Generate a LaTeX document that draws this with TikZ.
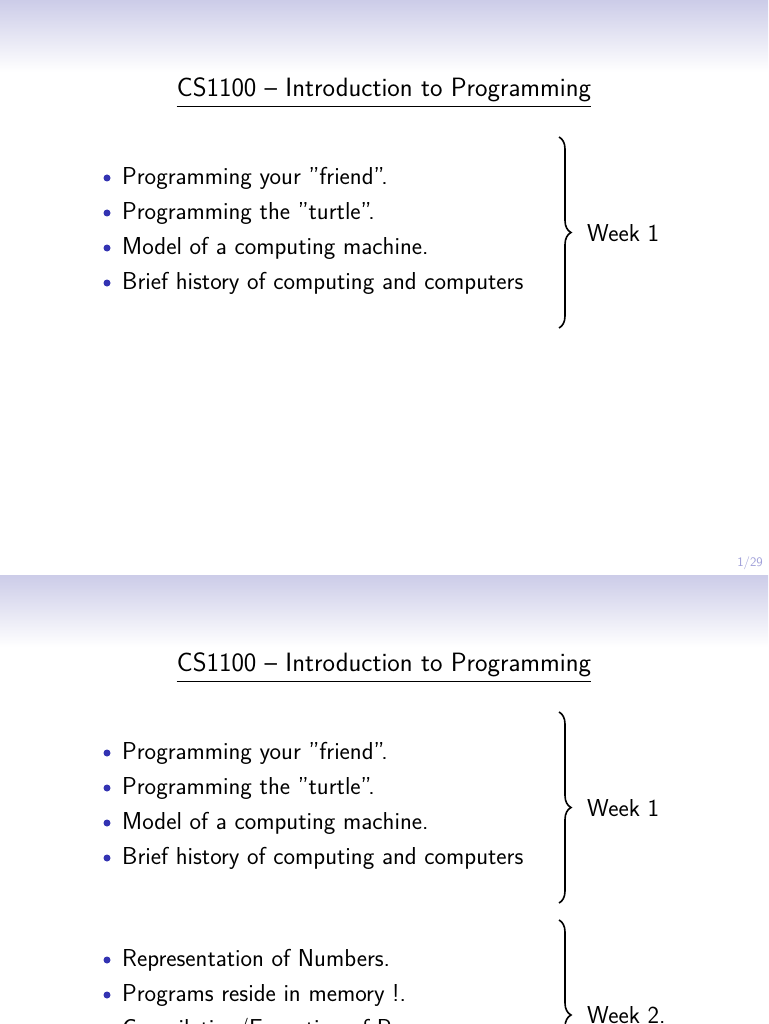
\documentclass[tikz,border=0pt]{standalone}
\usetikzlibrary{decorations.pathreplacing}
\definecolor{hdr}{RGB}{204,204,232}
\definecolor{bul}{RGB}{51,51,178}
\tikzset{
 item/.style={anchor=west,font=\fontsize{24.5}{28}\selectfont\sffamily,inner sep=0pt},
 ttl/.style={font=\fontsize{26.5}{30}\selectfont\sffamily,inner sep=0pt},
 bulletdot/.style={circle,fill=bul,inner sep=0pt,minimum size=7pt},
 brc/.style={decorate,decoration={brace,amplitude=12pt},line width=1.6pt},
 week/.style={anchor=west,font=\fontsize{24.5}{28}\selectfont\sffamily,inner sep=0pt},
}
\begin{document}
\begin{tikzpicture}[x=1pt,y=-1pt]
\useasboundingbox (0,0) rectangle (768,1024);
\clip (0,0) rectangle (768,1024);
\fill[white] (0,0) rectangle (768,1024);
\shade[top color=hdr,bottom color=white] (0,0) rectangle (768,72);
\shade[top color=hdr,bottom color=white] (0,575) rectangle (768,647);
\node[anchor=east,font=\fontsize{13}{15}\selectfont\sffamily,text=hdr!70!bul,inner sep=0pt] (pg) at (763,563) {1/29};
\foreach \o/\s in {0/a,575/b}{
 \node[ttl] (t\s) at (384,90+\o) {CS1100 -- Introduction to Programming};
 \draw[line width=0.9pt] ([yshift=-4pt]t\s.south west) -- ([yshift=-4pt]t\s.south east);
 \foreach \i/\t [count=\k] in {178/{Programming your "friend".},213/{Programming the "turtle".},248/{Model of a computing machine.},283/{Brief history of computing and computers}}{
  \node[bulletdot] (d\s\k) at (107,\i+\o) {};
  \node[item] (i\s\k) at (122,\i+\o) {\t};
 }
 \coordinate (bt\s) at (559,137+\o);
 \coordinate (bb\s) at (559,328+\o);
 \draw[brc] (bt\s) -- (bb\s);
 \node[week] (w\s) at (587,233+\o) {Week 1};
}
\foreach \i/\t [count=\k] in {960/{Representation of Numbers.},995/{Programs reside in memory !.},1030/{Compilation/Execution of Programs}}{
 \node[bulletdot] (dc\k) at (107,\i) {};
 \node[item] (ic\k) at (122,\i) {\t};
}
\coordinate (bt2) at (559,920);
\coordinate (bb2) at (559,1110);
\draw[brc] (bt2) -- (bb2);
\node[week] (w2) at (587,1015) {Week 2.};
\end{tikzpicture}
\end{document}
